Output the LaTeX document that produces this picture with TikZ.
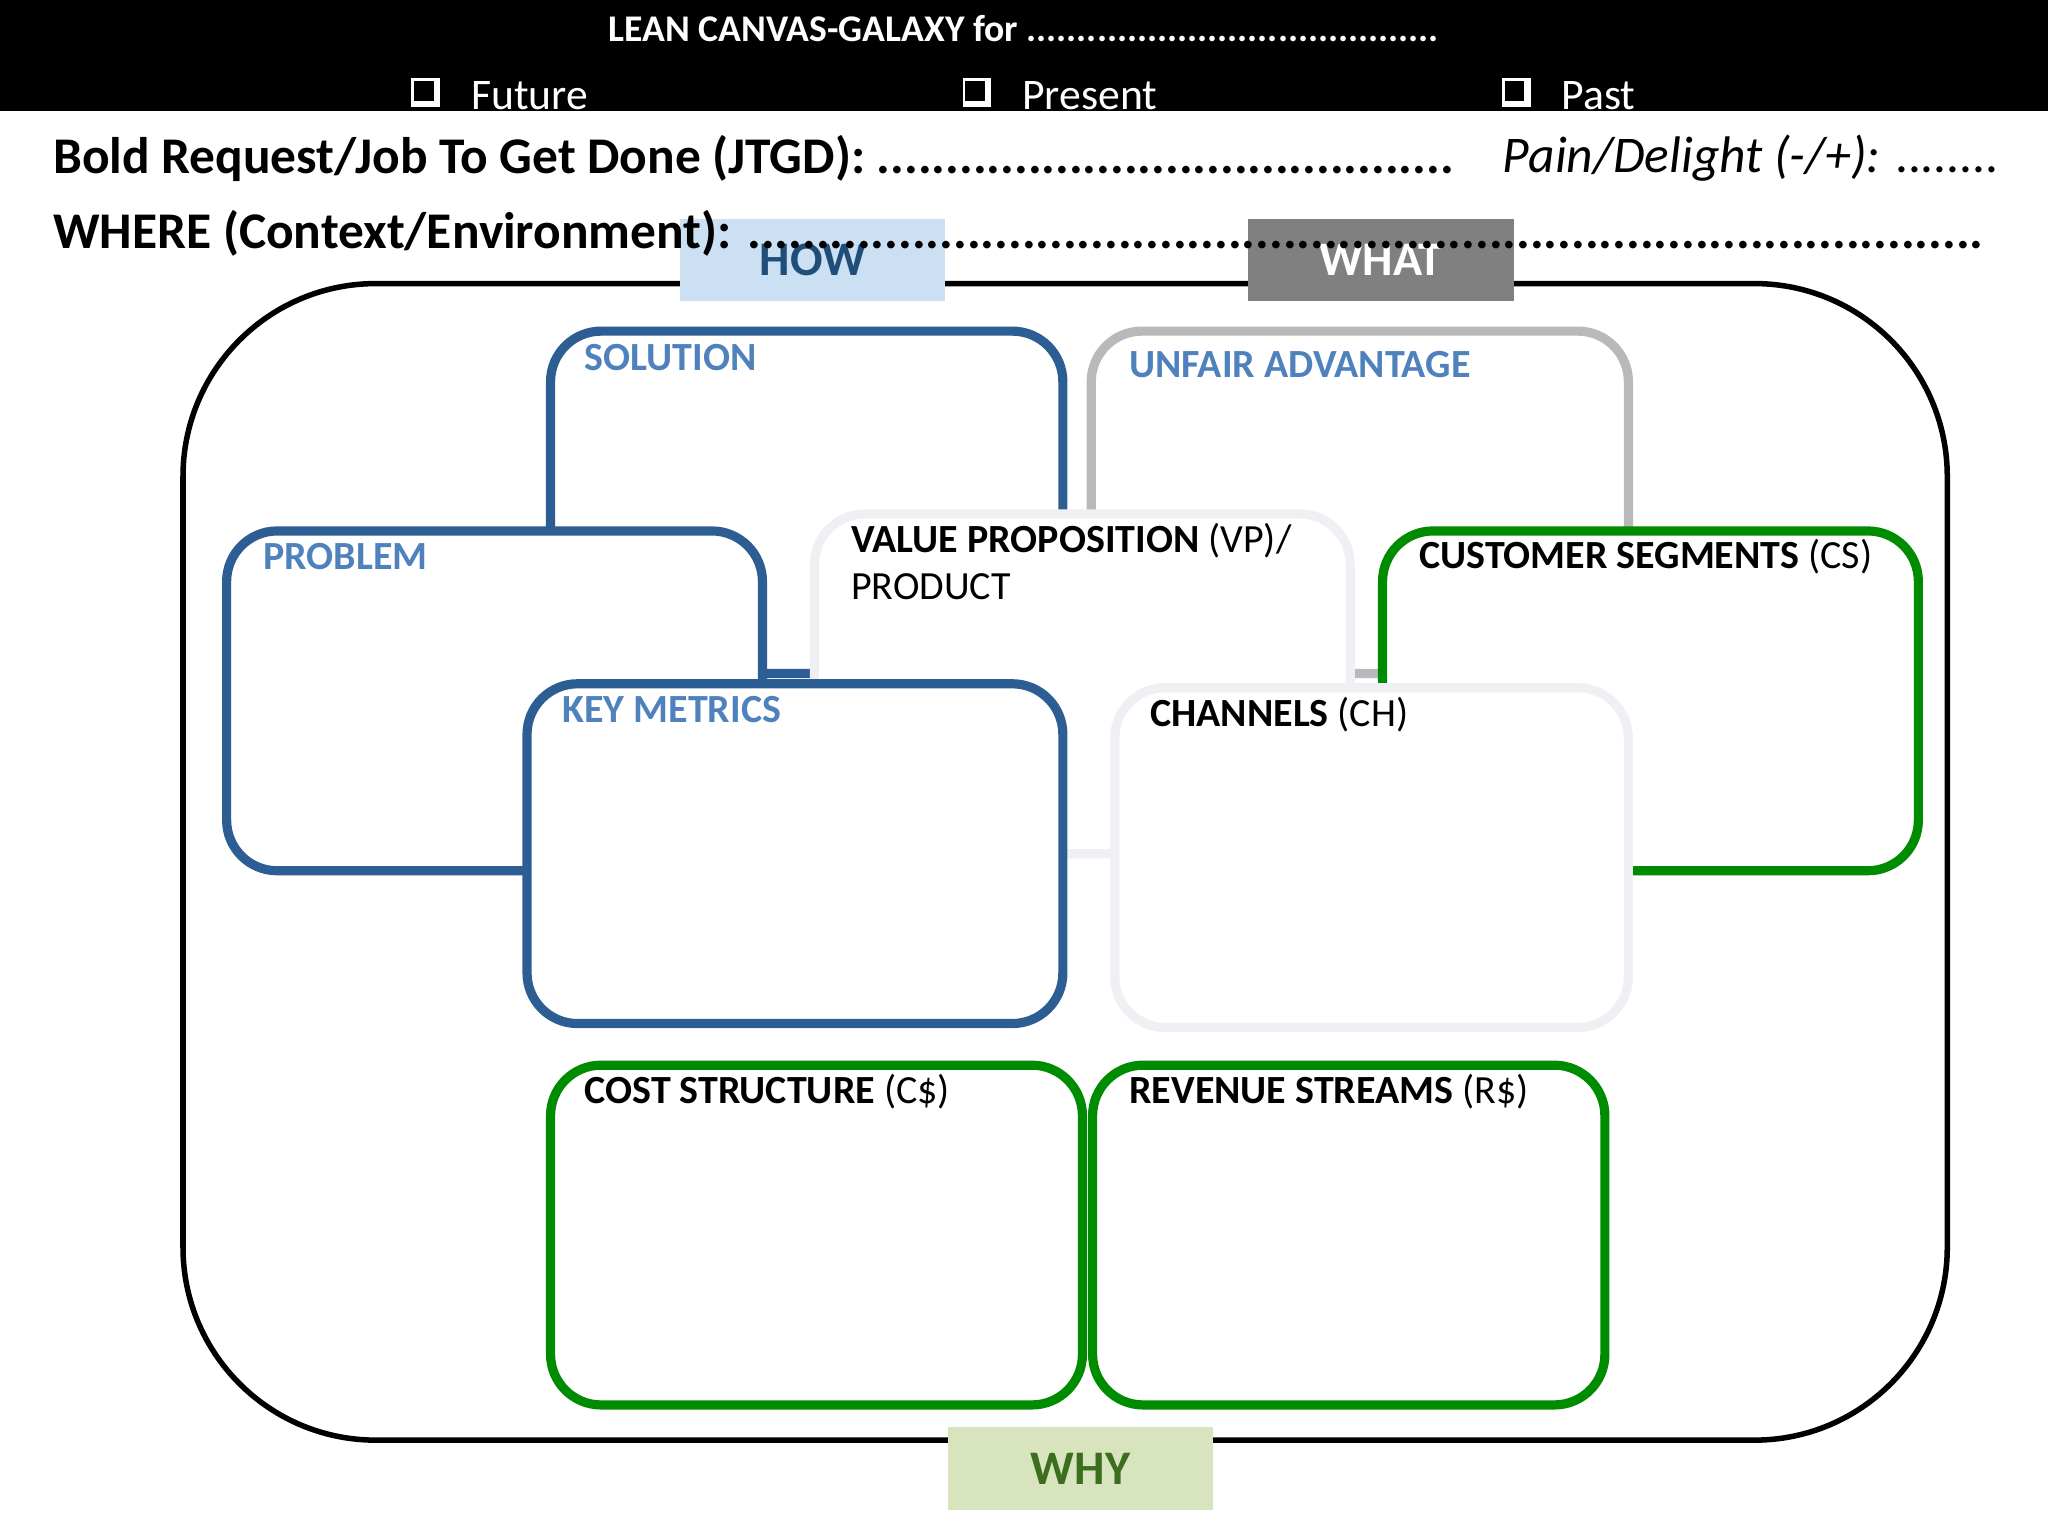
\documentclass[tikz,border=0pt]{standalone}
\usepackage{fontspec}
\setmainfont{Carlito}
\begin{document}
\begin{tikzpicture}[x=0.01cm,y=-0.01cm,
  box/.style={draw,fill=white,line width=2pt,anchor=north west,inner sep=0pt,rounded corners=11pt},
  blue box/.style={box,draw=bblue},
  green box/.style={box,draw=ggreen},
  gray box/.style={box,draw=ggray},
  light box/.style={box,draw=lgray},
  lab/.style={anchor=west,inner sep=0pt,font=\fontsize{8.7}{10}\selectfont},
  blab/.style={lab,text=lblue,font=\fontsize{8.7}{10}\selectfont\bfseries},
  hdr/.style={anchor=west,inner sep=0pt,font=\fontsize{11.2}{13}\selectfont\bfseries},
  tag/.style={minimum width=2.03cm,minimum height=0.63cm,inner sep=0pt,anchor=north west,font=\fontsize{10.5}{12}\selectfont\bfseries},
  chk/.style={anchor=west,inner sep=0pt,text=white,font=\fontsize{9.5}{11}\selectfont}]
\definecolor{bblue}{RGB}{44,94,148}
\definecolor{lblue}{RGB}{79,129,189}
\definecolor{ggreen}{RGB}{0,140,0}
\definecolor{ggray}{RGB}{185,185,188}
\definecolor{lgray}{RGB}{240,240,244}
\definecolor{howbg}{RGB}{204,224,244}
\definecolor{howtx}{RGB}{31,78,121}
\definecolor{whybg}{RGB}{215,228,189}
\definecolor{whytx}{RGB}{60,110,30}
\useasboundingbox (0,0) rectangle (1568,1176);
\fill[white] (0,0) rectangle (1568,1176);
% top bar
\fill[black] (0,0) rectangle (1568,85);
\node[inner sep=0pt,text=white,font=\fontsize{8.2}{9}\selectfont\bfseries] (title) at (784,22) {LEAN CANVAS-GALAXY for .........................................};
\foreach \x/\t/\n in {315/Future/f,737/Present/p,1150/Past/q}{
  \fill[white] (\x,60) rectangle (\x+22,82);
  \fill[black] (\x+2,62) rectangle (\x+17,77);
  \node[chk] (\n) at (\x+45,73) {\t};
}
% big frame
\node[draw=black,line width=1.2pt,rounded corners=42pt,minimum width=13.5cm,minimum height=8.85cm,anchor=north west,inner sep=0pt] (frame) at (138,215) {};
% tags
\node[tag,fill=howbg,text=howtx] (how) at (520,167) {HOW};
\node[tag,fill=black!50,text=white] (what) at (955,167) {WHAT};
\node[tag,fill=whybg,text=whytx] (why) at (725,1092) {WHY};
% headers
\node[hdr] (jtgd) at (40,121) {Bold Request/Job To Get Done (JTGD): ..........................................};
\node[anchor=west,inner sep=0pt,font=\fontsize{11.2}{13}\selectfont\itshape] (pain) at (1150,121) {Pain/Delight (-/+): ........};
\node[hdr] (where) at (40,179) {WHERE (Context/Environment): ..........................................................................................};
% boxes
\node[blue box,minimum width=3.92cm,minimum height=2.62cm] (sol) at (418,250) {};
\node[gray box,minimum width=4.11cm,minimum height=2.62cm] (ua) at (832,250) {};
\node[blue box,minimum width=4.1cm,minimum height=2.6cm] (prob) at (170,403) {};
\node[light box,minimum width=4.1cm,minimum height=2.6cm] (vp) at (620,390) {};
\node[green box,minimum width=4.1cm,minimum height=2.6cm] (cs) at (1055,403) {};
\node[blue box,minimum width=4.1cm,minimum height=2.6cm] (km) at (400,520) {};
\node[light box,minimum width=3.93cm,minimum height=2.6cm] (ch) at (850,523) {};
\node[green box,minimum width=4.07cm,minimum height=2.6cm] (cost) at (418,812) {};
\node[green box,minimum width=3.92cm,minimum height=2.6cm] (rev) at (833,812) {};
% labels
\node[blab] (lsol) at (447,274) {SOLUTION};
\node[blab] (lua) at (864,279) {UNFAIR ADVANTAGE};
\node[blab] (lprob) at (201,426) {PROBLEM};
\node[blab] (lkm) at (430,543) {KEY METRICS};
\node[lab] (lvp) at (651,414) {\textbf{VALUE PROPOSITION} (VP)/};
\node[lab] (lvp2) at (651,449) {PRODUCT};
\node[lab] (lcs) at (1086,426) {\textbf{CUSTOMER SEGMENTS} (CS)};
\node[lab] (lch) at (880,547) {\textbf{CHANNELS} (CH)};
\node[lab] (lcost) at (447,836) {\textbf{COST STRUCTURE} (C\$)};
\node[lab] (lrev) at (864,836) {\textbf{REVENUE STREAMS} (R\$)};
\end{tikzpicture}
\end{document}
